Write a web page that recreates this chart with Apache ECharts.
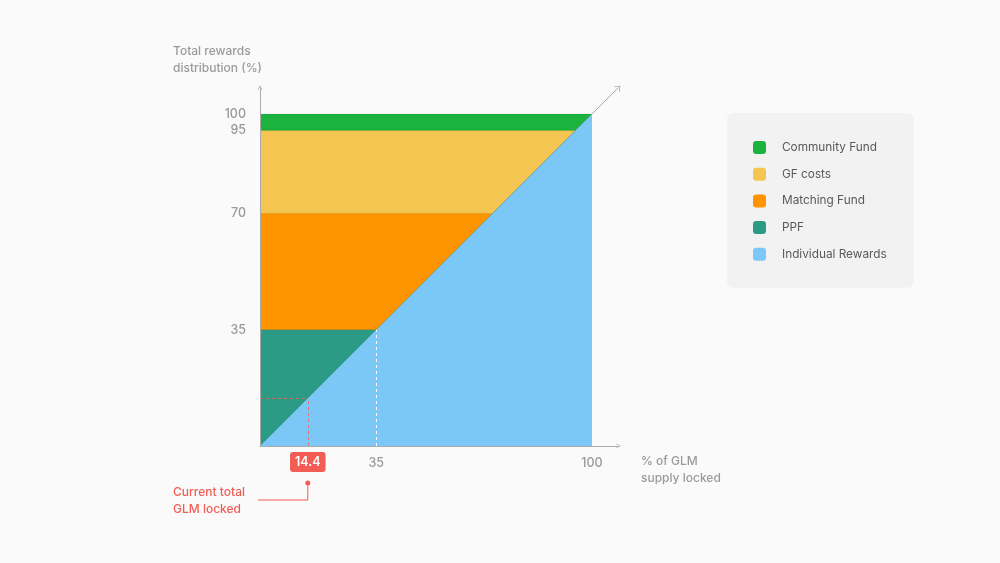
<!DOCTYPE html>
<html>
<head>
<meta charset="utf-8">
<script src="https://cdn.jsdelivr.net/npm/echarts@6/dist/echarts.min.js"></script>
<style>
html,body{margin:0;padding:0;background:#fafafa;}
#c{width:1000px;height:563px;}
</style>
</head>
<body>
<div id="c"></div>
<script>
// x positions (% of GLM supply locked) where the shares change
const xBreaks = [0, 35, 70, 95, 100];
// shares (%) of each bucket at each break, bottom to top
const individualRewards = [0, 35, 70, 95, 100];
const ppf = [35, 0, 0, 0, 0];
const matchingFund = [35, 35, 0, 0, 0];
const gfCosts = [25, 25, 25, 0, 0];
const communityFund = [5, 5, 5, 5, 0];

const yTickLabels = [35, 70, 95, 100];
const currentLocked = 14.4;
const xTickLabels = [currentLocked, 35, 100];
const thresholdX = 35;
const axisMax = 108;

const colors = {
  community: '#1cb23e',
  gf: '#f5c551',
  matching: '#fe9400',
  ppf: '#2b9b85',
  individual: '#7bc8f7'
};
const red = '#f25c55';
const grey = '#9a9a9a';
const chevron = 'path://M0,10 L5,0 L10,10 L8.8,10.6 L5,2.6 L1.2,10.6 Z';

// bottom-to-top layers; each area is painted from 0 up to its cumulative top,
// upper layers first, so lower layers overdraw them (visual stacking).
const layers = [
  { name: 'Individual Rewards', values: individualRewards, color: colors.individual },
  { name: 'PPF', values: ppf, color: colors.ppf },
  { name: 'Matching Fund', values: matchingFund, color: colors.matching },
  { name: 'GF costs', values: gfCosts, color: colors.gf },
  { name: 'Community Fund', values: communityFund, color: colors.community }
];

function cumulativeTop(layerIndex) {
  return xBreaks.map((x, i) => {
    let s = 0;
    for (let k = 0; k <= layerIndex; k++) s += layers[k].values[i];
    return [x, s];
  });
}

const areaSeries = layers.map((l, idx) => ({
  name: l.name,
  type: 'line',
  data: cumulativeTop(idx),
  symbol: 'none',
  z: 2 + (layers.length - idx) * 0.01,
  itemStyle: { color: l.color },
  lineStyle: { width: 1, color: 'rgba(0,0,0,0.07)' },
  areaStyle: { color: l.color, opacity: 1 },
  silent: true
})).reverse();

const chart = echarts.init(document.getElementById('c'));
const fontFamily = 'Inter, "Noto Sans", sans-serif';

const option = {
  backgroundColor: '#fafafa',
  animation: false,
  textStyle: { fontFamily: fontFamily },
  title: [
    {
      text: 'Total rewards\ndistribution (%)',
      left: 173, top: 43, padding: 0,
      textStyle: { fontSize: 12, fontWeight: 500, color: grey, lineHeight: 17, fontFamily: fontFamily }
    },
    {
      text: '% of GLM\nsupply locked',
      left: 641, top: 453, padding: 0,
      textStyle: { fontSize: 12, fontWeight: 500, color: grey, lineHeight: 17, fontFamily: fontFamily }
    }
  ],
  grid: { left: 260, top: 446 - 3.32 * axisMax, width: 3.32 * axisMax, height: 3.32 * axisMax },
  xAxis: {
    type: 'value', min: 0, max: axisMax,
    splitLine: { show: false },
    axisTick: { show: false },
    axisLine: { show: true, symbol: ['none', chevron], symbolSize: [8, 5], lineStyle: { color: '#aaaaaa', width: 1 } },
    z: 10,
    axisLabel: {
      customValues: xTickLabels,
      margin: 10,
      color: grey, fontSize: 12.5, fontWeight: 500, fontFamily: fontFamily,
      formatter: function (v) { return v === currentLocked ? '{badge|' + v + '}' : '{plain|' + v + '}'; },
      rich: {
        badge: {
          backgroundColor: red, color: '#fff', borderRadius: 3, lineHeight: 12,
          padding: [4, 5, 3, 5], fontSize: 12.5, fontWeight: 600, fontFamily: fontFamily
        },
        plain: {
          color: grey, lineHeight: 12, padding: [5, 0, 2, 0], fontSize: 12.5, fontWeight: 500, fontFamily: fontFamily
        }
      }
    }
  },
  yAxis: {
    type: 'value', min: 0, max: axisMax,
    splitLine: { show: false },
    axisTick: { show: false },
    z: 10,
    axisLine: { show: true, symbol: ['none', chevron], symbolSize: [8, 5], lineStyle: { color: '#aaaaaa', width: 1 } },
    axisLabel: { customValues: yTickLabels, margin: 14, color: grey, fontSize: 12.5, fontWeight: 500, fontFamily: fontFamily }
  },
  legend: {
    orient: 'vertical',
    left: 727, top: 113,
    backgroundColor: '#f2f2f2',
    borderRadius: 6,
    padding: [28, 27, 27, 26],
    itemWidth: 13, itemHeight: 13,
    itemGap: 13.7,
    icon: 'roundRect',
    selectedMode: false,
    textStyle: { color: '#595959', fontSize: 11.8, fontFamily: fontFamily, padding: [0, 0, 0, 11] },
    data: ['Community Fund', 'GF costs', 'Matching Fund', 'PPF', 'Individual Rewards']
  },
  series: areaSeries.concat([
    {
      name: 'guides',
      type: 'line',
      data: [],
      z: 5,
      markLine: {
        silent: true,
        symbol: 'none',
        label: { show: false },
        animation: false,
        data: [
          [{ coord: [0, currentLocked], lineStyle: { color: red, type: [3, 3], width: 1, opacity: 0.8 } }, { coord: [currentLocked, currentLocked] }],
          [{ coord: [currentLocked, 0], lineStyle: { color: red, type: [3, 3], width: 1, opacity: 0.8 } }, { coord: [currentLocked, currentLocked] }],
          [{ coord: [thresholdX, 0], lineStyle: { color: '#ffffff', type: [3, 3], width: 1 } }, { coord: [thresholdX, thresholdX] }],
          [{ coord: [100, 100], symbol: 'none', lineStyle: { color: '#aaaaaa', type: 'solid', width: 1 } }, { coord: [axisMax, axisMax], symbol: chevron, symbolSize: [8, 5] }]
        ]
      }
    }
  ])
};
chart.setOption(option);

// annotation below the axis, anchored to the current-locked value
const p = chart.convertToPixel({ gridIndex: 0 }, [currentLocked, 0]);
const dotY = p[1] + 37, elbowY = p[1] + 54;
chart.setOption({
  graphic: [
    { type: 'polyline', shape: { points: [[p[0], dotY], [p[0], elbowY], [258, elbowY]] }, style: { stroke: red, lineWidth: 1, fill: null }, silent: true },
    { type: 'circle', shape: { cx: p[0], cy: dotY, r: 2.5 }, style: { fill: red }, silent: true },
    { type: 'text', left: 173, top: p[1] + 38, style: { text: 'Current total\nGLM locked', fill: red, font: '500 12px ' + fontFamily, lineHeight: 17 }, silent: true }
  ]
});
</script>
</body>
</html>
